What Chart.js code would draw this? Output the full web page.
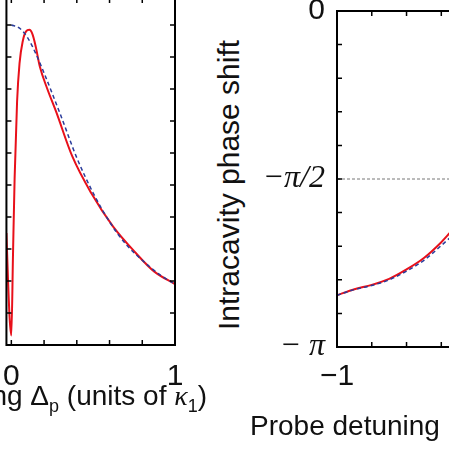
<!DOCTYPE html>
<html><head><meta charset="utf-8">
<script src="https://cdn.jsdelivr.net/npm/chart.js@4"></script>
<style>
body{margin:0;width:449px;height:449px;overflow:hidden;position:relative;background:#fff;font-family:"Liberation Sans",Arial,sans-serif}
.box{position:absolute}
.lbl{position:absolute;font-size:28px;color:#111;white-space:nowrap}
</style></head><body>
<div class="box" style="left:-3px;top:-2px;width:203px;height:451px"><canvas id="left"></canvas></div>
<div class="box" style="left:252px;top:-11px;width:445px;height:460px"><canvas id="right"></canvas></div>
<div class="lbl" style="right:242px;top:380px">ing Δ<sub style="font-size:18px">p</sub> (units of <i style="font-family:'Liberation Serif'">κ</i><sub style="font-size:18px">1</sub>)</div>
<div class="lbl" style="left:250px;top:410px">Probe detuning</div>
<div class="lbl" style="left:229px;top:330px;transform-origin:0 0;transform:rotate(-90deg) translateY(-50%);font-size:30px">Intracavity phase shift</div>
<script>
// left panel (normalised units)
const leftRedX = [-0.03, -0.02, -0.01, 0, 0.01, 0.02, 0.035, 0.05, 0.07, 0.09, 0.11, 0.13, 0.15, 0.174, 0.22, 0.273, 0.372, 0.488, 0.622, 0.756, 0.872, 1.0];
const leftRedY = [0.35, 0.2, 0.08, 0.03, 0.28, 0.52, 0.76, 0.88, 0.95, 0.98, 0.985, 0.97, 0.93, 0.87, 0.80, 0.73, 0.59, 0.475, 0.37, 0.29, 0.23, 0.19];
const leftBlueX = [0, 0.05, 0.1, 0.15, 0.2, 0.3, 0.4, 0.5, 0.6, 0.7, 0.8, 0.9, 1.0];
const leftBlueY = [1.0, 0.99, 0.96, 0.91, 0.85, 0.72, 0.585, 0.475, 0.385, 0.315, 0.265, 0.222, 0.19];
// right panel (phase in units of pi)
const rightRedX = [-1, -0.9, -0.8, -0.7, -0.6, -0.5, -0.4, -0.35];
const rightRedY = [-0.846, -0.828, -0.815, -0.797, -0.769, -0.735, -0.688, -0.66];
const rightBlueX = [-1, -0.9, -0.8, -0.7, -0.6, -0.5, -0.4, -0.35];
const rightBlueY = [-0.846, -0.829, -0.817, -0.800, -0.774, -0.742, -0.698, -0.675];
const halfPiX = [-1, 1];
const halfPiY = [-0.5, -0.5];

const pts = (xs, ys) => xs.map((x, i) => ({x, y: ys[i]}));

const framePlugin = {
  id: 'frame',
  afterDatasetsDraw(chart, args, opts) {
    const {ctx, chartArea: a, scales: {x, y}} = chart;
    ctx.save();
    ctx.strokeStyle = '#000';
    ctx.lineWidth = 2;
    ctx.strokeRect(a.left, a.top, a.right - a.left, a.bottom - a.top);
    ctx.lineWidth = 1.5;
    const L = 5;
    opts.xt.forEach(v => {
      const p = x.getPixelForValue(v);
      ctx.beginPath();
      ctx.moveTo(p, a.top); ctx.lineTo(p, a.top + L);
      ctx.moveTo(p, a.bottom); ctx.lineTo(p, a.bottom - L);
      ctx.stroke();
    });
    opts.yt.forEach(v => {
      const p = y.getPixelForValue(v);
      ctx.beginPath();
      ctx.moveTo(a.left, p); ctx.lineTo(a.left + L, p);
      ctx.moveTo(a.right, p); ctx.lineTo(a.right - L, p);
      ctx.stroke();
    });
    ctx.restore();
  }
};

const range = (a, b, s) => { const r = []; for (let v = a; v <= b + 1e-9; v += s) r.push(+v.toFixed(3)); return r; };
const tickFont = {family: "'Liberation Sans', Arial", size: 30};

new Chart(document.getElementById('left'), {
  type: 'scatter',
  data: {datasets: [
    {data: pts(leftBlueX, leftBlueY), showLine: true, borderColor: '#2a3b9a', borderWidth: 1.5, borderDash: [4, 3], pointRadius: 0, cubicInterpolationMode: 'monotone'},
    {data: pts(leftRedX, leftRedY), showLine: true, borderColor: '#e8101a', borderWidth: 2, pointRadius: 0, cubicInterpolationMode: 'monotone'}
  ]},
  options: {
    responsive: true, maintainAspectRatio: false, animation: false,
    layout: {padding: {left: 0, right: 25, top: 0, bottom: 0}},
    plugins: {legend: {display: false}, tooltip: {enabled: false},
      frame: {xt: range(0, 1, 0.2), yt: range(0, 1, 0.1)}},
    scales: {
      x: {min: -0.03, max: 1, grid: {display: false}, border: {display: false},
        afterBuildTicks: s => { s.ticks = [{value: 0}, {value: 1}]; },
        afterFit: s => { s.height = 104; },
        ticks: {color: '#111', font: tickFont, padding: 6, maxRotation: 0, callback: v => String(v)}},
      y: {display: false, min: 0, max: 347 / 320}
    }
  },
  plugins: [framePlugin]
});

new Chart(document.getElementById('right'), {
  type: 'scatter',
  data: {datasets: [
    {data: pts(halfPiX, halfPiY), showLine: true, borderColor: '#777', borderWidth: 1, borderDash: [3, 2], pointRadius: 0},
    {data: pts(rightBlueX, rightBlueY), showLine: true, borderColor: '#2a3b9a', borderWidth: 1.5, borderDash: [4, 3], pointRadius: 0, cubicInterpolationMode: 'monotone'},
    {data: pts(rightRedX, rightRedY), showLine: true, borderColor: '#e8101a', borderWidth: 2, pointRadius: 0, cubicInterpolationMode: 'monotone'}
  ]},
  options: {
    responsive: true, maintainAspectRatio: false, animation: false,
    layout: {padding: {left: 0, right: 10, top: 0, bottom: 0}},
    plugins: {legend: {display: false}, tooltip: {enabled: false},
      frame: {xt: range(-1, 1, 0.2), yt: range(-1, 0, 0.1)}},
    scales: {
      x: {min: -1, max: 1, grid: {display: false}, border: {display: false},
        afterBuildTicks: s => { s.ticks = [{value: -1}, {value: 0}, {value: 1}]; },
        afterFit: s => { s.height = 102; },
        ticks: {color: '#111', font: tickFont, padding: 4, maxRotation: 0, callback: v => (v < 0 ? '\u2212' : '') + Math.abs(v)}},
      y: {min: -1, max: 0, grid: {display: false}, border: {display: false},
        afterBuildTicks: s => { s.ticks = [{value: -1}, {value: -0.5}, {value: 0}]; },
        afterFit: s => { s.width = 85; },
        ticks: {color: '#111', padding: 4,
          font: c => c.tick && c.tick.value !== 0 ? {family: "'Liberation Serif'", style: 'italic', size: 32} : tickFont,
          callback: v => v === 0 ? '0' : (v === -1 ? '\u2212 \u03c0' : '\u2212\u03c0/2')}}
    }
  },
  plugins: [framePlugin]
});
</script>
</body></html>
